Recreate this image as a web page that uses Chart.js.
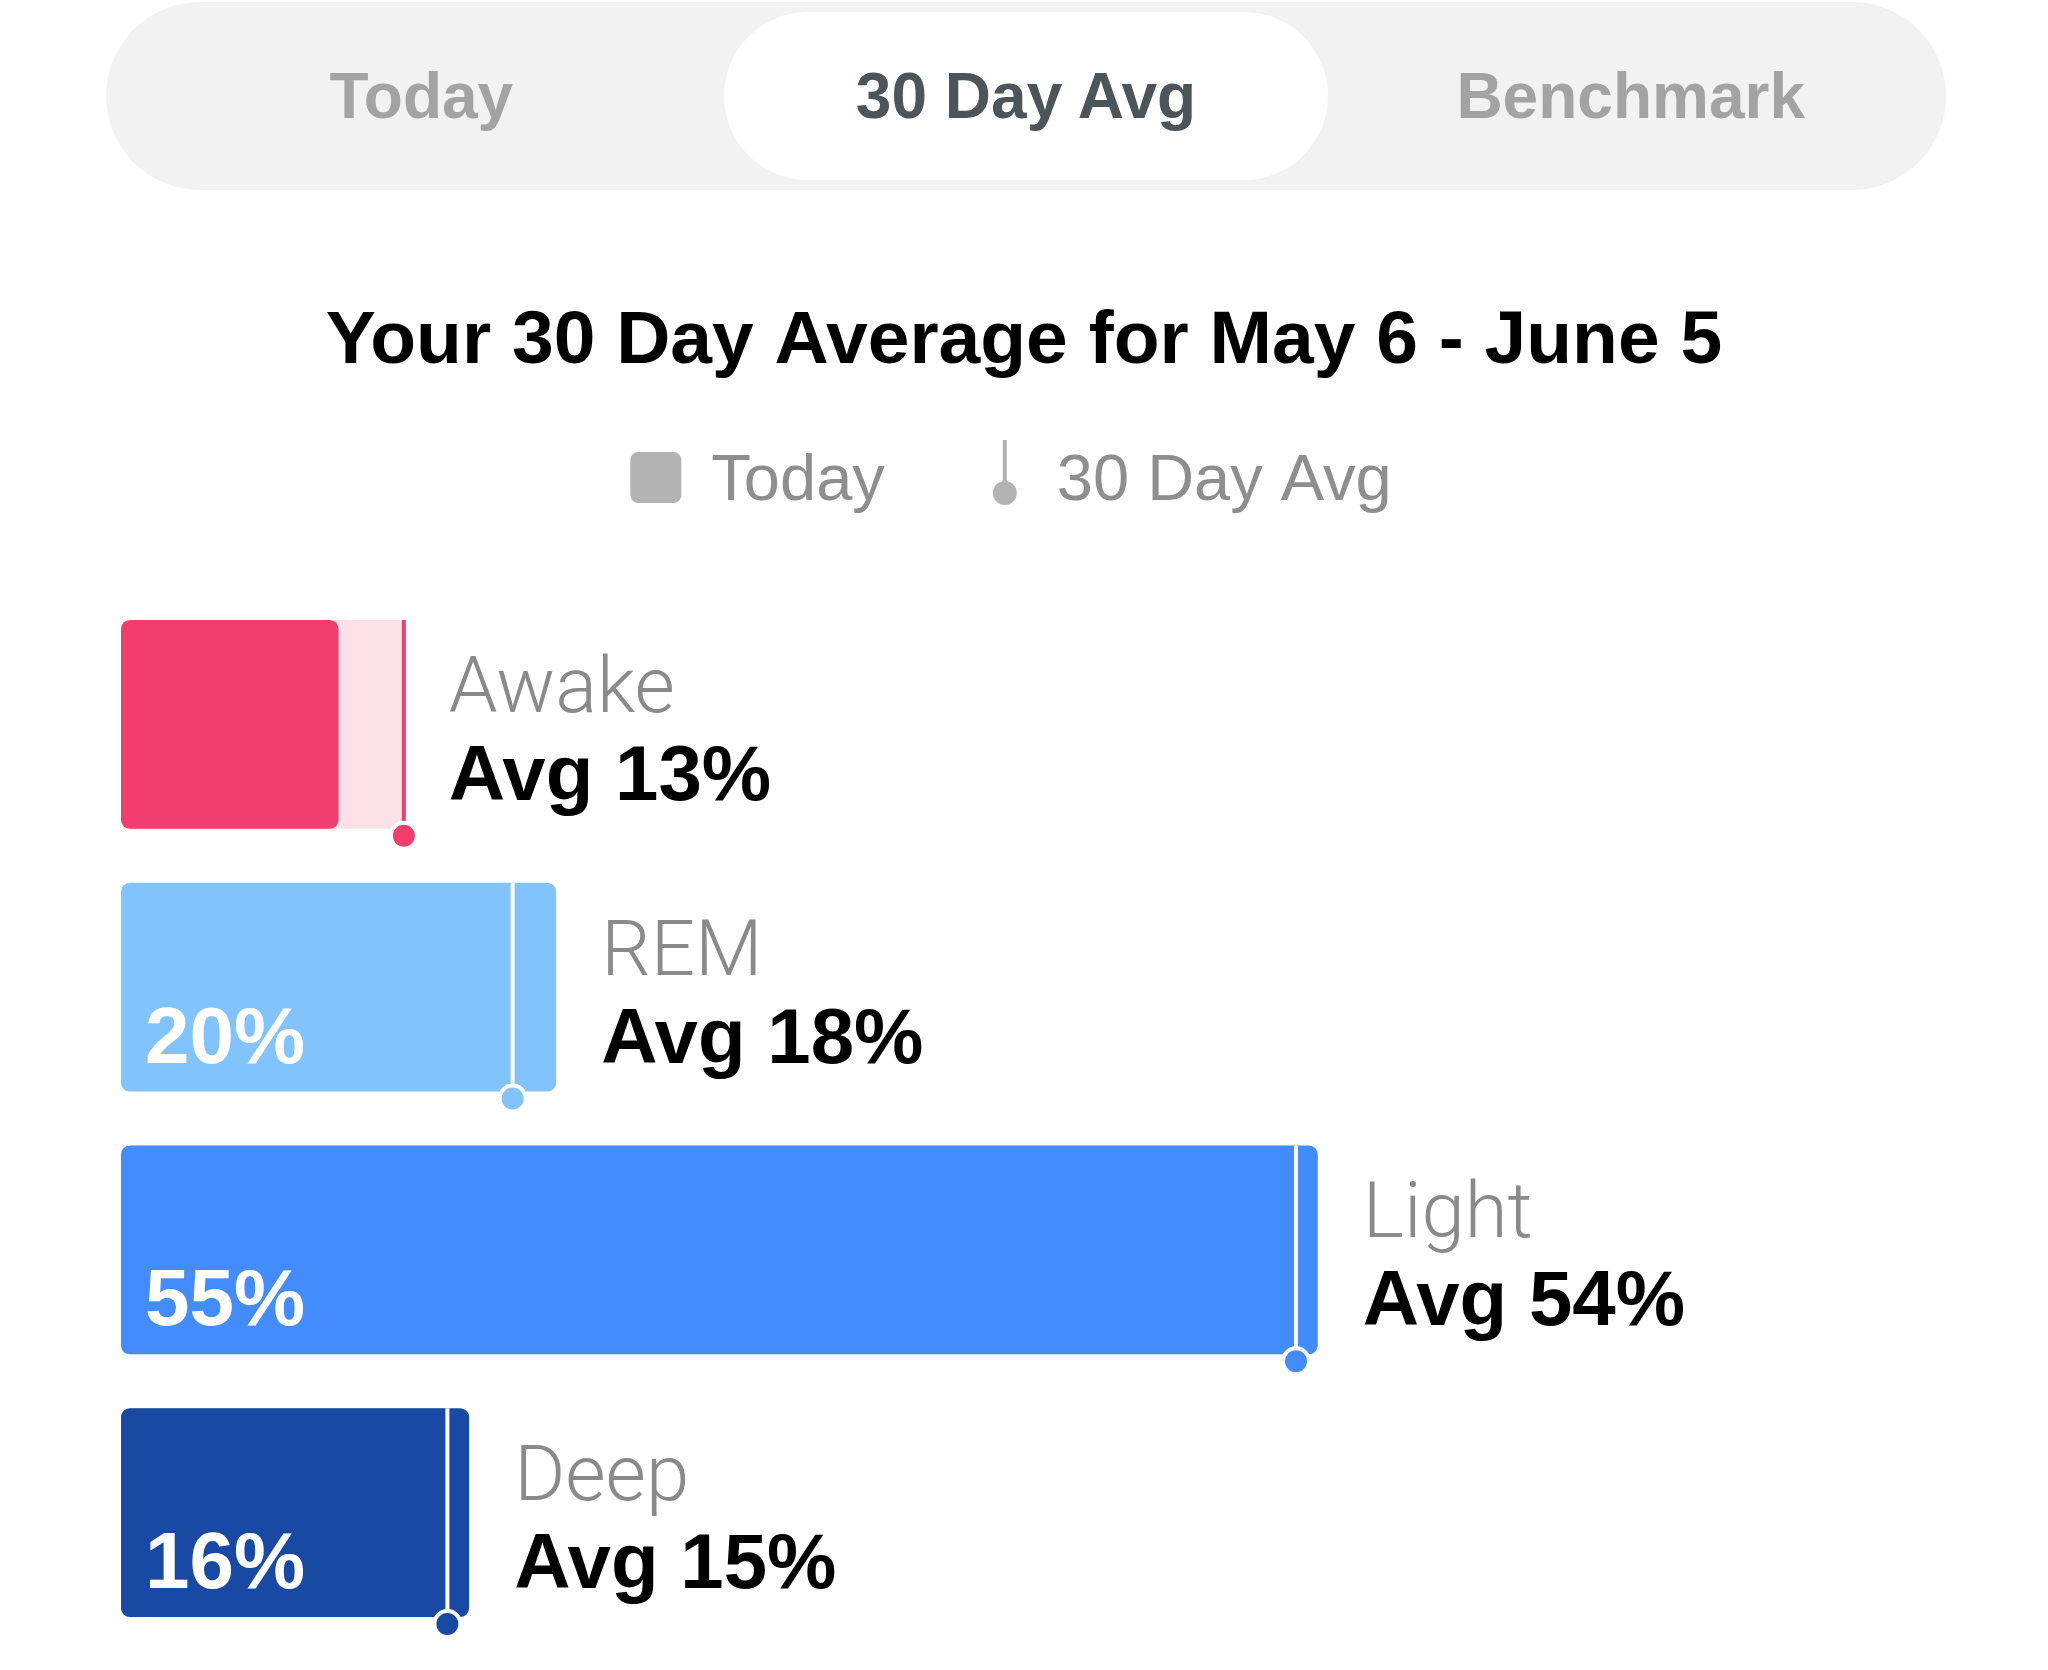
<!DOCTYPE html>
<html>
<head>
<meta charset="utf-8">
<title>Sleep stages - 30 day average</title>
<script src="https://cdn.jsdelivr.net/npm/chart.js@4.4.0/dist/chart.umd.min.js"></script>
<style>
  body { margin: 0; background: #fff; font-family: "Liberation Sans", Arial, sans-serif; }
  #wrap { position: relative; width: 2048px; height: 1670px; }
  #chart { position: absolute; left: 0; top: 0; }
  #tabs {
    position: absolute; left: 106px; top: 2px; width: 1840px; height: 188px;
    box-sizing: border-box; padding: 0 13px; border-radius: 94px;
    background: #f2f2f2; display: flex;
  }
  #tabs div {
    flex: 1; display: flex; align-items: center; justify-content: center;
    font-size: 64px; font-weight: 700; color: #a3a3a3;
  }
  #tabs div.on { background: #fff; border-radius: 84px; margin: 10px 0; color: #4b555a; }
</style>
</head>
<body>
<div id="wrap">
  <canvas id="chart" width="2048" height="1670"></canvas>
  <div id="tabs"><div>Today</div><div class="on">30 Day Avg</div><div>Benchmark</div></div>
</div>
<script>
const stages = ['Awake', 'REM', 'Light', 'Deep'];
const todayShare = [10, 20, 55, 16];
const avgShare = [13, 18, 54, 15];
const stageColors = ['#f23d6f', '#80c3fd', '#428cfe', '#184aa3'];
const tintColors = ['#fde1e8', '#dbeeff', '#d7e7ff', '#d2dcef'];
const legendLabels = ['Today', '30 Day Avg'];

const ctx = document.getElementById('chart');

// avg marker, stage names and values
const stageMarks = {
  id: 'stageMarks',
  afterDatasetsDraw(chart) {
    const c = chart.ctx, x = chart.scales.x;
    const meta = chart.getDatasetMeta(0);
    c.save();
    meta.data.forEach((bar, i) => {
      const top = bar.y - bar.height / 2, bottom = bar.y + bar.height / 2;
      const ax = x.getPixelForValue(avgShare[i]);
      const inside = avgShare[i] <= todayShare[i];

      c.strokeStyle = inside ? '#fff' : stageColors[i];
      c.lineWidth = 4;
      c.beginPath();
      c.moveTo(ax, top);
      c.lineTo(ax, bottom);
      c.stroke();

      c.beginPath();
      c.arc(ax, bottom + 7, 13, 0, Math.PI * 2);
      c.fillStyle = stageColors[i];
      c.fill();
      c.lineWidth = 4;
      c.strokeStyle = '#fff';
      c.stroke();

      const tx = Math.max(bar.x, ax) + 45;
      c.textAlign = 'left';
      c.textBaseline = 'alphabetic';
      c.fillStyle = '#8a8a8a';
      c.font = '300 78px Roboto';
      c.fillText(stages[i], tx, top + 92);
      c.fillStyle = '#000';
      c.font = 'bold 78px "Liberation Sans"';
      c.fillText('Avg ' + avgShare[i] + '%', tx, top + 180);

      // today value only shown once the bar passes the average
      if (inside) {
        c.font = 'bold 80px "Liberation Sans"';
        c.fillStyle = '#fff';
        c.fillText(todayShare[i] + '%', x.left + 24, bottom - 29);
      }
    });
    c.restore();
  },
  afterDraw(chart) {
    const c = chart.ctx;
    const y = chart.chartArea.top - 116;
    c.save();
    c.font = '65px "Liberation Sans"';
    const w1 = c.measureText(legendLabels[0]).width;
    const w2 = c.measureText(legendLabels[1]).width;
    const total = 51 + 30 + w1 + 107 + 26 + 39 + w2;
    const x0 = chart.width / 2 - 13 - total / 2;
    c.fillStyle = '#b3b3b3';
    c.beginPath();
    c.roundRect(x0, y - 25, 51, 51, 8);
    c.fill();
    const px = x0 + 81 + w1 + 107 + 13;
    c.strokeStyle = '#b3b3b3';
    c.lineWidth = 4;
    c.beginPath();
    c.moveTo(px, y - 37);
    c.lineTo(px, y + 14);
    c.stroke();
    c.beginPath();
    c.arc(px, y + 16, 12, 0, Math.PI * 2);
    c.fill();
    c.fillStyle = '#8e8e8e';
    c.textBaseline = 'alphabetic';
    c.fillText(legendLabels[0], x0 + 81, y + 23);
    c.fillText(legendLabels[1], px + 52, y + 23);
    c.restore();
  }
};

new Chart(ctx, {
  type: 'bar',
  data: {
    labels: stages,
    datasets: [{
      label: legendLabels[0],
      data: todayShare,
      backgroundColor: stageColors,
      borderRadius: 9,
      borderSkipped: false,
      grouped: false,
      barPercentage: 0.795,
      categoryPercentage: 1
    }, {
      label: legendLabels[1],
      data: avgShare,
      backgroundColor: tintColors,
      borderRadius: { topLeft: 9, bottomLeft: 9, topRight: 0, bottomRight: 0 },
      borderSkipped: false,
      grouped: false,
      barPercentage: 0.795,
      categoryPercentage: 1
    }]
  },
  options: {
    indexAxis: 'y',
    responsive: false,
    animation: false,
    devicePixelRatio: 1,
    layout: { padding: { left: 121, right: 121, top: 0, bottom: 26 } },
    scales: {
      x: { display: false, min: 0, max: 83 },
      y: { display: false }
    },
    plugins: {
      legend: { display: false },
      tooltip: { enabled: false },
      title: {
        display: true,
        text: 'Your 30 Day Average for May 6 - June 5',
        color: '#000',
        font: { family: '"Liberation Sans", Arial, sans-serif', size: 75, weight: 'bold' },
        padding: { top: 297, bottom: 206 }
      }
    }
  },
  plugins: [stageMarks]
});
</script>
</body>
</html>
